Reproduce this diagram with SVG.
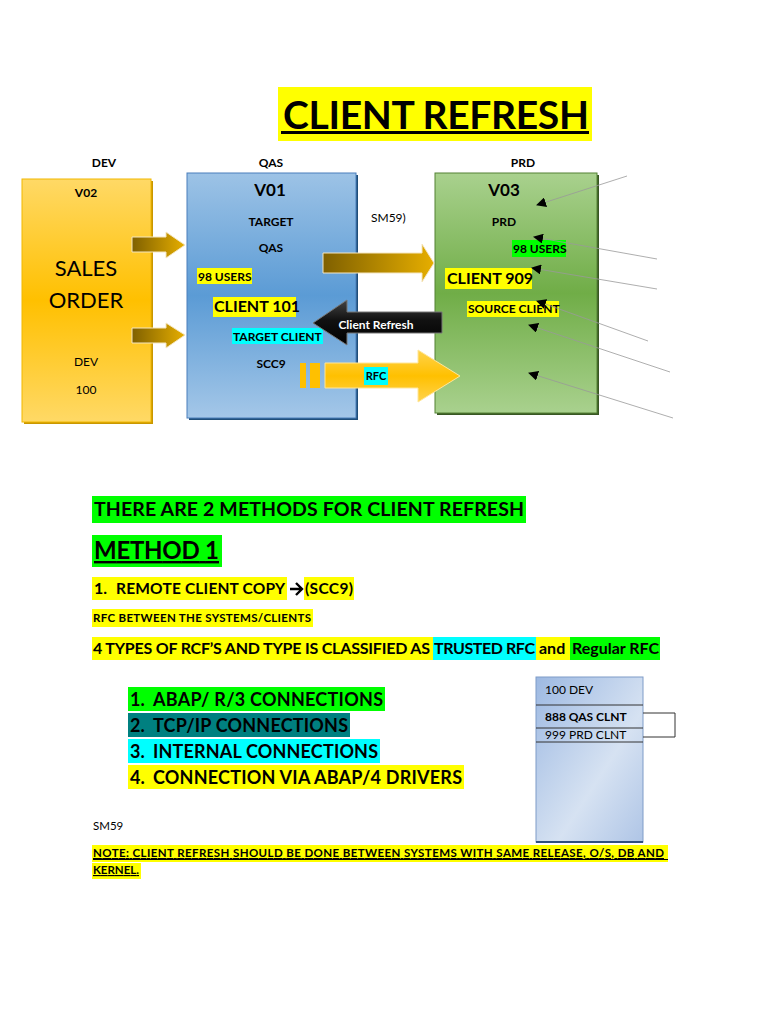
<svg xmlns="http://www.w3.org/2000/svg" width="768" height="1024" viewBox="0 0 768 1024">
<style>
text{font-family:Lato,"Liberation Sans",sans-serif;fill:#000}
.b{font-weight:bold}
.c{text-anchor:middle}
.s12{font-size:12px}
.li{font-weight:bold;font-size:18px}
.ptr{stroke:#999;stroke-width:0.8;fill:none;marker-end:url(#ah)}
</style>
<defs>
<linearGradient id="gOr" x1="0" y1="0" x2="0" y2="1"><stop offset="0" stop-color="#FFD966"/><stop offset="0.5" stop-color="#FFC000"/><stop offset="1" stop-color="#FFD966"/></linearGradient>
<linearGradient id="gBl" x1="0" y1="0" x2="0" y2="1"><stop offset="0" stop-color="#9DC3E6"/><stop offset="0.5" stop-color="#5B9BD5"/><stop offset="1" stop-color="#A4C7E8"/></linearGradient>
<linearGradient id="gGr" x1="0" y1="0" x2="0" y2="1"><stop offset="0" stop-color="#A9D18E"/><stop offset="0.5" stop-color="#70AD47"/><stop offset="1" stop-color="#A9D18E"/></linearGradient>
<linearGradient id="gGold" x1="0" y1="0" x2="1" y2="0"><stop offset="0" stop-color="#7F6000"/><stop offset="1" stop-color="#E6AE00"/></linearGradient>
<linearGradient id="gBlk" x1="0" y1="0" x2="0" y2="1"><stop offset="0" stop-color="#444"/><stop offset="0.45" stop-color="#111"/><stop offset="1" stop-color="#000"/></linearGradient>
<linearGradient id="gYel" x1="0" y1="0" x2="0" y2="1"><stop offset="0" stop-color="#FFD34D"/><stop offset="0.5" stop-color="#FFC000"/><stop offset="1" stop-color="#FFD34D"/></linearGradient>
<linearGradient id="gBox" x1="0" y1="0" x2="1" y2="1"><stop offset="0" stop-color="#9DB9E2"/><stop offset="0.6" stop-color="#D6E2F2"/><stop offset="1" stop-color="#AFC5E6"/></linearGradient>
<marker id="ah" viewBox="0 0 10 10" refX="9" refY="5" markerWidth="10" markerHeight="10" markerUnits="userSpaceOnUse" orient="auto"><path d="M0,0 L10,5 L0,10 z" fill="#000"/></marker>
</defs>

<g id="title">
<rect x="278" y="87" width="314" height="54" fill="#FFFF00"/>
<text x="283" y="129" class="b" font-size="39" textLength="306">CLIENT REFRESH</text>
<rect x="281" y="131" width="308" height="3" fill="#000"/>
</g>

<g id="env-labels">
<text x="104" y="167" class="b c s12">DEV</text>
<text x="271" y="167" class="b c s12">QAS</text>
<text x="523" y="167" class="b c s12">PRD</text>
<text x="371" y="222" class="s12">SM59)</text>
</g>

<g id="dev-box">
<rect x="24" y="181" width="129" height="243" fill="#C99700"/>
<rect x="22" y="179" width="129" height="243" fill="url(#gOr)" stroke="#F2B800" stroke-width="1"/>
<text x="86" y="197" class="b c s12">V02</text>
<text x="86" y="276" class="c" font-size="22">SALES</text>
<text x="86" y="308" class="c" font-size="22">ORDER</text>
<text x="86" y="366" class="c s12">DEV</text>
<text x="86" y="394" class="c s12">100</text>
</g>

<g id="qas-box">
<rect x="189" y="175" width="169" height="245" fill="#1F4E79"/>
<rect x="187" y="173" width="169" height="245" fill="url(#gBl)" stroke="#4A7EBB" stroke-width="1"/>
<text x="270" y="196" class="b c" font-size="17">V01</text>
<text x="271" y="226" class="b c s12">TARGET</text>
<text x="271" y="252" class="b c s12">QAS</text>
<rect x="197" y="268" width="55" height="16" fill="#FFFF00"/>
<text x="198" y="281" class="b s12">98 USERS</text>
<rect x="213" y="297" width="83" height="20" fill="#FFFF00"/>
<text x="214" y="312" class="b" font-size="16">CLIENT 101</text>
<rect x="232" y="328" width="91" height="16" fill="#00FFFF"/>
<text x="233" y="341" class="b s12">TARGET CLIENT</text>
<text x="271" y="368" class="b c s12">SCC9</text>
</g>

<g id="prd-box">
<rect x="437" y="175" width="162" height="240" fill="#385723"/>
<rect x="435" y="173" width="162" height="240" fill="url(#gGr)" stroke="#548235" stroke-width="1"/>
<text x="504" y="196" class="b c" font-size="17">V03</text>
<text x="504" y="226" class="b c s12">PRD</text>
<rect x="512" y="240" width="54" height="17" fill="#00FF00"/>
<text x="513" y="253" class="b s12">98 USERS</text>
<rect x="445" y="268" width="87" height="21" fill="#FFFF00"/>
<text x="447" y="284" class="b" font-size="16">CLIENT 909</text>
<rect x="467" y="301" width="92" height="16" fill="#FFFF00"/>
<text x="468" y="313" class="b s12">SOURCE CLIENT</text>
</g>

<g id="connectors">
<path d="M132,237 H166 V232 L185,245 L166,258 V252 H132 Z" fill="url(#gGold)" stroke="#F5E6C0" stroke-width="1"/>
<path d="M132,328 H166 V323 L185,335 L166,348 V343 H132 Z" fill="url(#gGold)" stroke="#F5E6C0" stroke-width="1"/>
<path d="M323,253 H422 V244 L434,263 L422,282 V273 H323 Z" fill="url(#gGold)" stroke="#F5E6C0" stroke-width="1"/>
<path d="M313,323 L347,300 V312 H442 V333 H347 V345 Z" fill="url(#gBlk)" stroke="#777" stroke-width="1"/>
<text x="376" y="329" class="b c" font-size="12" style="fill:#fff">Client Refresh</text>
<rect x="300" y="363" width="6" height="25" fill="#FFC000"/>
<rect x="310" y="363" width="10" height="25" fill="#FFC000"/>
<path d="M325,363 H418 V350 L460,376 L418,402 V388 H325 Z" fill="url(#gYel)" stroke="#FFE699" stroke-width="1"/>
<rect x="364" y="367" width="24" height="18" fill="#00FFFF"/>
<text x="376" y="380" class="b c" font-size="11">RFC</text>
<line class="ptr" x1="627" y1="176" x2="537" y2="205"/>
<line class="ptr" x1="657" y1="259" x2="534" y2="237"/>
<line class="ptr" x1="657" y1="289" x2="532" y2="268"/>
<line class="ptr" x1="648" y1="341" x2="537" y2="301"/>
<line class="ptr" x1="670" y1="372" x2="529" y2="325"/>
<line class="ptr" x1="673" y1="418" x2="529" y2="373"/>
</g>

<g id="methods">
<rect x="92" y="496" width="434" height="27" fill="#00FF00"/>
<text x="94" y="516" class="b" font-size="19.5" textLength="430">THERE ARE 2 METHODS FOR CLIENT REFRESH</text>
<rect x="92" y="535" width="130" height="32" fill="#00FF00"/>
<text x="94" y="559" class="b" font-size="24" textLength="125" text-decoration="underline">METHOD 1</text>
<rect x="92" y="577" width="195" height="23" fill="#FFFF00"/>
<rect x="304" y="577" width="50" height="23" fill="#FFFF00"/>
<text x="94" y="594" class="b" font-size="16">1.</text>
<text x="116" y="594" class="b" font-size="15.5" textLength="169">REMOTE CLIENT COPY</text>
<path d="M290,589 H301 M296,583 L302,589 L296,595" fill="none" stroke="#000" stroke-width="2.4"/>
<text x="305" y="594" class="b" font-size="15.5" textLength="48">(SCC9)</text>
<rect x="92" y="609" width="221" height="18" fill="#FFFF00"/>
<text x="93" y="622" class="b" font-size="11.5" textLength="218">RFC BETWEEN THE SYSTEMS/CLIENTS</text>
<rect x="92" y="637" width="341" height="23" fill="#FFFF00"/>
<rect x="433" y="637" width="103" height="23" fill="#00FFFF"/>
<rect x="536" y="637" width="34" height="23" fill="#FFFF00"/>
<rect x="570" y="637" width="90" height="23" fill="#00FF00"/>
<text x="93" y="654" class="b" font-size="16" textLength="337">4 TYPES OF RCF’S AND TYPE IS CLASSIFIED AS</text>
<text x="434" y="654" class="b" font-size="16" textLength="101">TRUSTED RFC</text>
<text x="539" y="654" class="b" font-size="16">and</text>
<text x="572" y="654" class="b" font-size="16" textLength="87">Regular RFC</text>
</g>

<g id="rfc-types">
<rect x="128" y="687" width="257" height="24" fill="#00FF00"/>
<rect x="128" y="713" width="222" height="24" fill="#008080"/>
<rect x="128" y="739" width="252" height="24" fill="#00FFFF"/>
<rect x="128" y="765" width="336" height="24" fill="#FFFF00"/>
<text x="130" y="706" class="li">1.</text>
<text x="153" y="706" class="li" textLength="230">ABAP/ R/3 CONNECTIONS</text>
<text x="130" y="732" class="li">2.</text>
<text x="153" y="732" class="li" textLength="195">TCP/IP CONNECTIONS</text>
<text x="130" y="758" class="li">3.</text>
<text x="153" y="758" class="li" textLength="225">INTERNAL CONNECTIONS</text>
<text x="130" y="784" class="li">4.</text>
<text x="153" y="784" class="li" textLength="309">CONNECTION VIA ABAP/4 DRIVERS</text>
</g>

<g id="client-box">
<rect x="536" y="677" width="107" height="165" fill="url(#gBox)" stroke="#7F9CC8" stroke-width="1"/>
<line x1="536" y1="842" x2="643" y2="842" stroke="#2F4F7F" stroke-width="2"/>
<text x="545" y="694" class="s12">100 DEV</text>
<line x1="536" y1="705" x2="643" y2="705" stroke="#333" stroke-width="1"/>
<text x="545" y="721" class="b s12">888 QAS CLNT</text>
<line x1="536" y1="728" x2="643" y2="728" stroke="#333" stroke-width="1"/>
<text x="545" y="739" class="s12">999 PRD CLNT</text>
<line x1="536" y1="742" x2="643" y2="742" stroke="#333" stroke-width="1"/>
<path d="M643,713 H675 V737 H643" fill="none" stroke="#333" stroke-width="1"/>
</g>

<g id="notes">
<text x="93" y="830" font-size="11.5">SM59</text>
<rect x="92" y="845" width="576" height="17" fill="#FFFF00"/>
<rect x="92" y="863" width="49" height="16" fill="#FFFF00"/>
<text x="93" y="857" class="b" font-size="11.5" textLength="571" text-decoration="underline">NOTE: CLIENT REFRESH SHOULD BE DONE BETWEEN SYSTEMS WITH SAME RELEASE, O/S, DB AND</text>
<line x1="93" y1="859.5" x2="668" y2="859.5" stroke="#000" stroke-width="1"/>
<text x="93" y="874" class="b" font-size="11.5" textLength="46" text-decoration="underline">KERNEL.</text>
</g>
</svg>
